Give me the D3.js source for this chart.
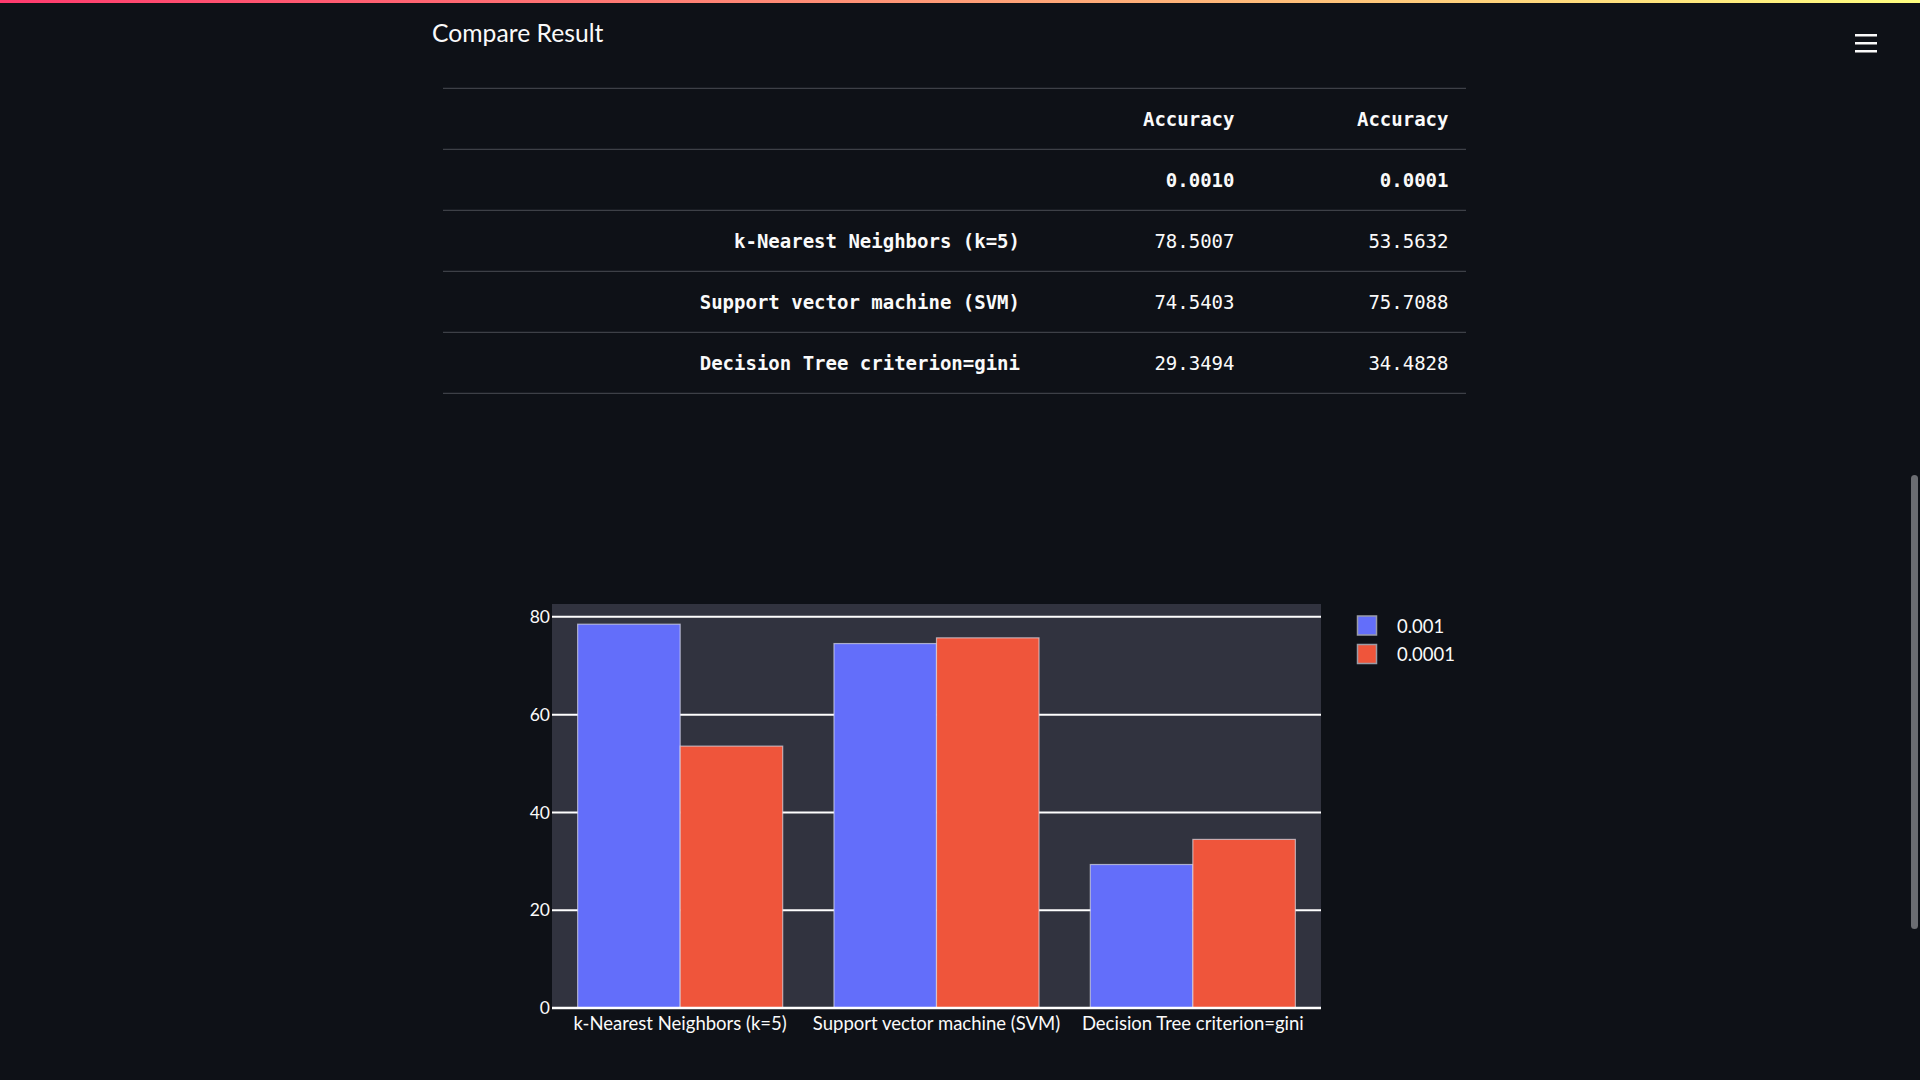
<!DOCTYPE html>
<html>
<head>
<meta charset="utf-8">
<script src="https://cdn.jsdelivr.net/npm/d3@7"></script>
<style>
html,body{margin:0;padding:0;background:#0e1117;overflow:hidden;}
svg{display:block;}
</style>
</head>
<body>
<svg id="c" width="1920" height="1080"></svg>
<script>
// ---- data ----
const title = "Compare Result";
const models = ["k-Nearest Neighbors (k=5)", "Support vector machine (SVM)", "Decision Tree criterion=gini"];
const seriesNames = ["0.001", "0.0001"];
const headerLabels = ["Accuracy", "Accuracy"];
const subHeaderLabels = ["0.0010", "0.0001"];
const acc001 = [78.5007, 74.5403, 29.3494];
const acc0001 = [53.5632, 75.7088, 34.4828];
const yTicks = [0, 20, 40, 60, 80];

// ---- styles ----
const colors = ["#636efa", "#ef553b"];
const textCol = "#fafafa";
const chartFont = "Lato, 'Noto Sans', sans-serif";
const monoFont = "'DejaVu Sans Mono', monospace";

const svg = d3.select("#c");

// top decoration gradient
const defs = svg.append("defs");
const grad = defs.append("linearGradient").attr("id", "topgrad").attr("x1", "0%").attr("x2", "100%");
grad.append("stop").attr("offset", "0%").attr("stop-color", "#ff3a6e");
grad.append("stop").attr("offset", "100%").attr("stop-color", "#ffff80");
svg.append("rect").attr("x", 0).attr("y", 0).attr("width", 1920).attr("height", 3).attr("fill", "url(#topgrad)");

// title
svg.append("text").attr("x", 432).attr("y", 42).attr("fill", textCol)
  .attr("font-family", chartFont).attr("font-size", 24.7).text(title);

// hamburger
[34, 42, 50].forEach(y => svg.append("rect").attr("x", 1855).attr("y", y).attr("width", 22).attr("height", 2.5).attr("fill", "#fafafa"));

// scrollbar
svg.append("rect").attr("x", 1911).attr("y", 475).attr("width", 7).attr("height", 454).attr("rx", 3.5).attr("fill", "#6b6d72");

// ---- table ----
const tableX0 = 443, tableX1 = 1466;
const rowTop = 88.3, rowH = 61;
const colRight = [1020, 1234.5, 1448.5];
const nRows = 5;
for (let i = 0; i <= nRows; i++) {
  svg.append("line").attr("x1", tableX0).attr("x2", tableX1)
    .attr("y1", rowTop + i * rowH).attr("y2", rowTop + i * rowH)
    .attr("stroke", "#3d4047").attr("stroke-width", 1.2);
}
function cell(row, col, txt, bold) {
  svg.append("text").attr("x", colRight[col]).attr("y", rowTop + row * rowH + rowH / 2 + 7.6)
    .attr("text-anchor", "end").attr("fill", textCol)
    .attr("font-family", monoFont).attr("font-size", 19)
    .attr("font-weight", bold ? "bold" : "normal").text(txt);
}
headerLabels.forEach((h, j) => cell(0, j + 1, h, true));
subHeaderLabels.forEach((h, j) => cell(1, j + 1, h, true));
models.forEach((m, i) => {
  cell(i + 2, 0, m, true);
  cell(i + 2, 1, acc001[i].toFixed(4), false);
  cell(i + 2, 2, acc0001[i].toFixed(4), false);
});

// ---- chart ----
const px0 = 552, px1 = 1321, py0 = 604, py1 = 1008;
const values = [acc001, acc0001];
const yMax = d3.max(values.flat()) * 1.0526;
const y = d3.scaleLinear().domain([0, yMax]).range([py1, py0]);
const x = d3.scaleBand().domain(models).range([px0, px1]).paddingInner(0.2).paddingOuter(0.1);
const xs = d3.scaleBand().domain(seriesNames).range([0, x.bandwidth()]);

svg.append("rect").attr("x", px0).attr("y", py0).attr("width", px1 - px0).attr("height", py1 - py0).attr("fill", "#31333f");

// gridlines
svg.append("g").selectAll("line").data(yTicks.filter(t => t > 0)).join("line")
  .attr("x1", px0).attr("x2", px1).attr("y1", d => y(d)).attr("y2", d => y(d))
  .attr("stroke", "#ffffff").attr("stroke-width", 2);

// bars
seriesNames.forEach((s, si) => {
  svg.append("g").selectAll("rect").data(models).join("rect")
    .attr("x", m => x(m) + xs(s))
    .attr("y", (m, i) => y(values[si][i]))
    .attr("width", xs.bandwidth())
    .attr("height", (m, i) => y(0) - y(values[si][i]))
    .attr("fill", colors[si])
    .attr("stroke", "rgba(225,225,235,0.65)").attr("stroke-width", 1.2);
});

// zero line
svg.append("line").attr("x1", px0).attr("x2", px1).attr("y1", y(0)).attr("y2", y(0))
  .attr("stroke", "#ffffff").attr("stroke-width", 2.5);

// y axis labels
const yAxis = d3.axisLeft(y).tickValues(yTicks).tickSize(0).tickPadding(2);
const ga = svg.append("g").attr("transform", `translate(${px0},0)`).call(yAxis);
ga.select(".domain").remove();
ga.selectAll("text").attr("fill", textCol).attr("font-family", chartFont).attr("font-size", 17.5);

// x axis labels
const xAxis = d3.axisBottom(x).tickSize(0).tickPadding(9);
const gx = svg.append("g").attr("transform", `translate(0,${py1})`).call(xAxis);
gx.select(".domain").remove();
gx.selectAll("text").attr("fill", textCol).attr("font-family", chartFont).attr("font-size", 18.5);

// legend
seriesNames.forEach((s, si) => {
  const ly = 616 + si * 28.5;
  svg.append("rect").attr("x", 1357.5).attr("y", ly).attr("width", 19).attr("height", 19)
    .attr("fill", colors[si]).attr("stroke", "#9a9ca6").attr("stroke-width", 1.5);
  svg.append("text").attr("x", 1397).attr("y", ly + 16.5).attr("fill", textCol)
    .attr("font-family", chartFont).attr("font-size", 18.5).text(s);
});
</script>
</body>
</html>
